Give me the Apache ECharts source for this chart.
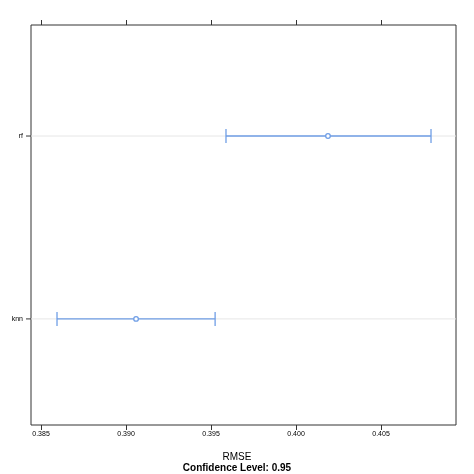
<!DOCTYPE html><html><head><meta charset="utf-8">
<script src="https://cdn.jsdelivr.net/npm/echarts@6/dist/echarts.min.js"></script>
<style>html,body{margin:0;background:#fff}#c{width:474px;height:474px}</style></head><body><div id="c"></div>
<script>
const models=['knn','rf'];
const lower=[0.38594,0.39588];
const estimate=[0.39059,0.40188];
const upper=[0.39524,0.40794];
const xTicks=[0.385,0.390,0.395,0.400,0.405];
const chart=echarts.init(document.getElementById('c'));
const xMin=0.38441,xMax=0.40941;
const data=models.map((m,i)=>[i+1,lower[i],estimate[i],upper[i],m]);
const col='#6f9ee6';
const xa={type:'value',min:xMin,max:xMax,interval:0.005,splitLine:{show:false},axisLine:{show:false}};
chart.setOption({
 animation:false,
 grid:{left:31,right:18,top:25,bottom:49,show:true,borderColor:'#333',borderWidth:1},
 title:{text:'RMSE',subtext:'Confidence Level: 0.95',left:'center',top:447,itemGap:1,
  textStyle:{fontSize:10,fontWeight:'normal',color:'#000',fontFamily:'Liberation Sans'},
  subtextStyle:{fontSize:10,fontWeight:'bold',color:'#000',fontFamily:'Liberation Sans'}},
 xAxis:[
  Object.assign({},xa,{position:'bottom',axisTick:{show:true,length:5,lineStyle:{color:'#333'}},
   axisLabel:{fontSize:7,color:'#000',margin:6,formatter:v=>v.toFixed(3),customValues:xTicks},
   axisTick:{show:true,length:5,customValues:xTicks,lineStyle:{color:'#333'}}}),
  Object.assign({},xa,{position:'top',axisLabel:{show:false},
   axisTick:{show:true,length:5,customValues:xTicks,lineStyle:{color:'#333'}}})
 ],
 yAxis:{type:'value',min:0.42,max:2.607,show:false},
 series:[{
  type:'custom',data:data,encode:{x:[1,2,3],y:0},clip:false,
  renderItem:(p,api)=>{
   const y=api.value(0);
   const a=api.coord([api.value(1),y]),e=api.coord([api.value(2),y]),b=api.coord([api.value(3),y]);
   const l=api.coord([xMin,y]),r=api.coord([xMax,y]);
   const ls={stroke:col,lineWidth:1.3};
   return {type:'group',children:[
    {type:'line',shape:{x1:l[0],y1:l[1],x2:r[0],y2:r[1]},style:{stroke:'#e6e6e6',lineWidth:1}},
    {type:'line',shape:{x1:l[0],y1:l[1],x2:l[0]-5,y2:l[1]},style:{stroke:'#333',lineWidth:1}},
    {type:'text',style:{text:data[p.dataIndex][4],x:l[0]-8,y:l[1],align:'right',verticalAlign:'middle',fontSize:7,fill:'#000',fontFamily:'Liberation Sans'}},
    {type:'line',shape:{x1:a[0],y1:a[1],x2:b[0],y2:b[1]},style:ls},
    {type:'line',shape:{x1:a[0],y1:a[1]-7,x2:a[0],y2:a[1]+7},style:ls},
    {type:'line',shape:{x1:b[0],y1:b[1]-7,x2:b[0],y2:b[1]+7},style:ls},
    {type:'circle',shape:{cx:e[0],cy:e[1],r:2.3},style:{stroke:col,fill:'#fff',lineWidth:1.3}}
   ]};
  }
 }]
});
</script></body></html>
